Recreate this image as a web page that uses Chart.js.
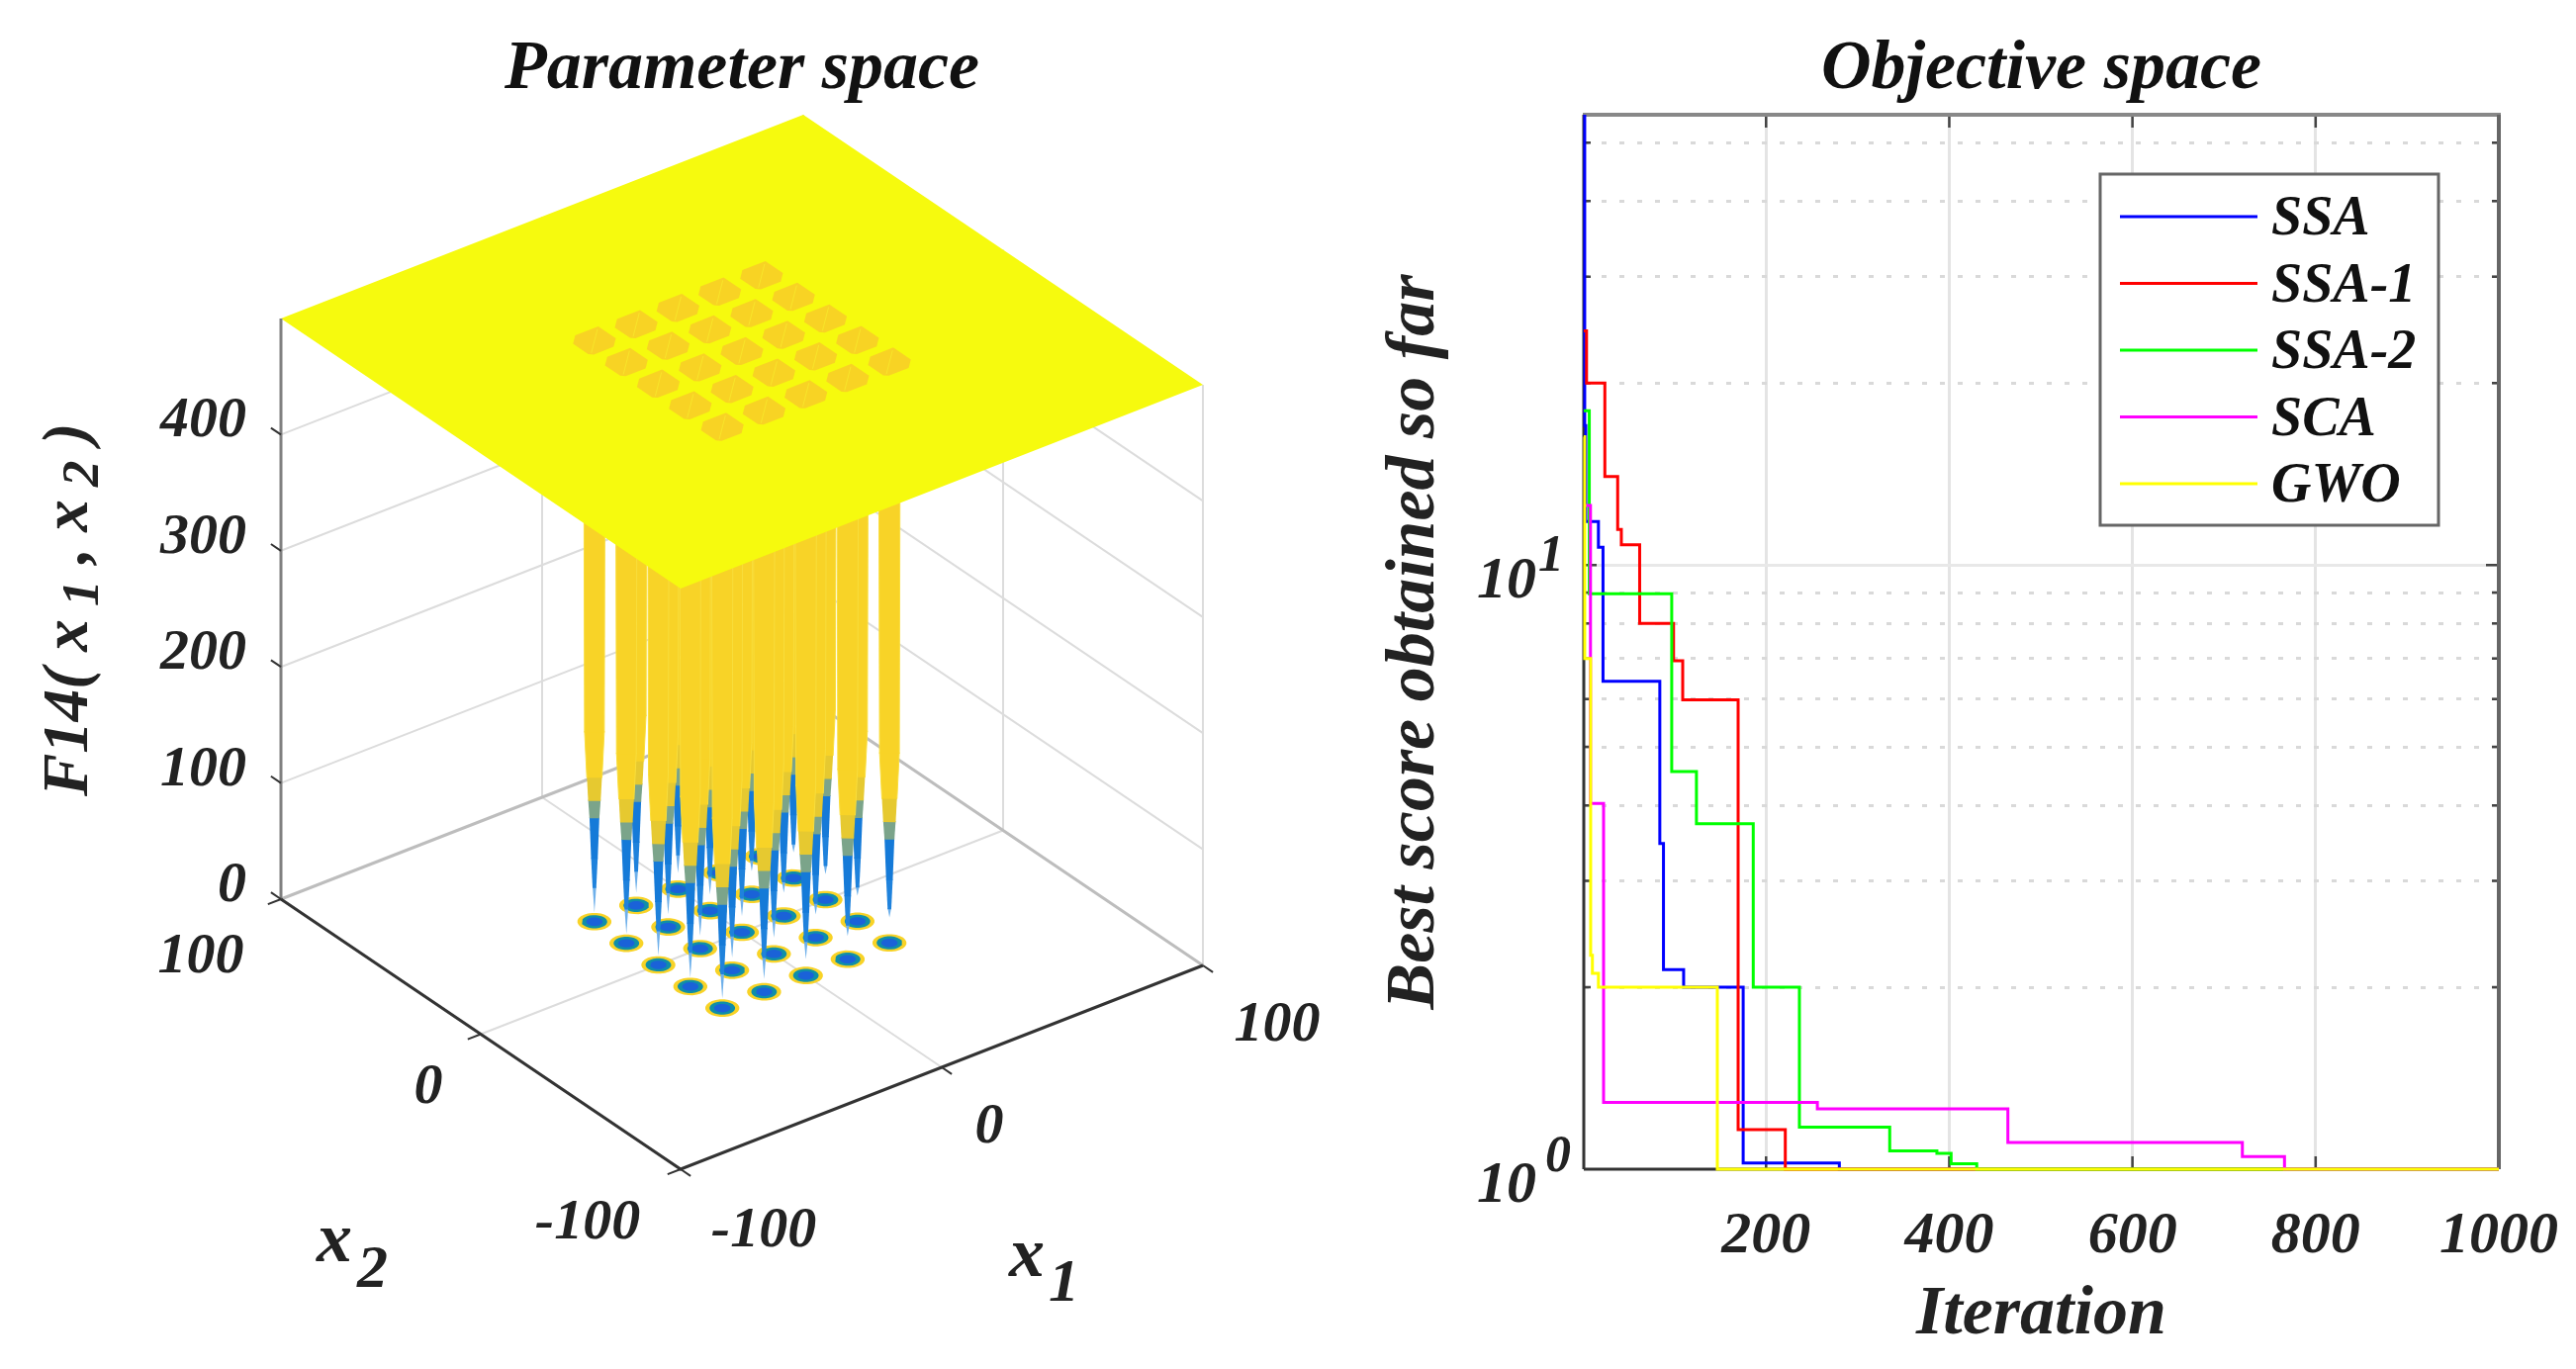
<!DOCTYPE html>
<html>
<head>
<meta charset="utf-8">
<title>Parameter space / Objective space</title>
<script src="https://cdn.jsdelivr.net/npm/chart.js@4"></script>
<style>
  html, body { margin: 0; padding: 0; background: #fff; }
  #wrap { position: relative; width: 2604px; height: 1384px; overflow: hidden; }
  canvas { position: absolute; top: 0; }
  #surface { left: 0; }
  #curves { left: 1380px; }
</style>
</head>
<body>
<div id="wrap">
  <canvas id="surface" width="1500" height="1384"></canvas>
  <canvas id="curves" width="1224" height="1384"></canvas>
</div>
<script>
// convergence curves
const seriesNames = ['SSA', 'SSA-1', 'SSA-2', 'SCA', 'GWO'];
const ssaX = [1, 2, 3.2, 17, 22, 84, 88, 110, 175, 280, 1000];
const ssaY = [80, 17, 11.8, 10.7, 6.42, 3.46, 2.14, 2.0, 1.024, 1, 1];
const ssa1X = [1, 4, 24, 38, 42, 62, 99, 109, 169.5, 221, 1000];
const ssa1Y = [24.4, 20, 14, 11.45, 10.8, 8.0, 6.94, 5.98, 1.163, 1, 1];
const ssa2X = [1, 7, 97, 124, 186, 236.4, 335, 386.5, 402, 430, 1000];
const ssa2Y = [18, 8.96, 4.55, 3.73, 2.0, 1.174, 1.072, 1.062, 1.021, 1, 1];
const scaX = [1, 8.3, 22.6, 256, 464, 720, 766, 1000];
const scaY = [12.55, 4.03, 1.29, 1.258, 1.107, 1.049, 1, 1];
const gwoX = [1, 2, 8.5, 10.4, 17, 146.8, 1000];
const gwoY = [16.3, 7.0, 2.26, 2.11, 2.0, 1, 1];
const iterTicks = [200, 400, 600, 800, 1000];
const scoreTicks = [1, 2, 3, 4, 5, 6, 7, 8, 9, 10, 20, 30, 40, 50];

// surface: foxhole centres and the profile of one hole
const holeX1 = [-32, -16, 0, 16, 32];
const holeX2 = [-32, -16, 0, 16, 32];
const tipByX1 = [8, 11, 14, 20, 22];
const plateauZ = 500;
const wallZ = [30, 55, 90, 105, 125, 164, 500];
const wallR = [0.55, 1.0, 1.5, 1.9, 2.3, 3.0, 3.3];
const zTicks = [0, 100, 200, 300, 400];
const baseTicks = [-100, 0, 100];

const FAMILY = '"Liberation Serif"';
const fontStr = size => `italic bold ${size}px ${FAMILY}`;
const INK = '#222';

// fixed view of the 3D box (orthographic)
function project(x1, x2, z) {
  return {
    x: 750 + 2.64 * x1 - 2.02 * x2,
    y: 942.5 - 1.03 * x1 - 1.365 * x2 - 1.174 * z
  };
}

function buildSurfaceDatasets() {
  const list = [];
  const line = (pts, color, width) => list.push({
    type: 'scatter', showLine: true, data: pts, borderColor: color, borderWidth: width,
    pointRadius: 0, fill: false
  });
  const poly = (pts, color, edge) => list.push({
    type: 'scatter', showLine: true, data: pts, borderColor: edge || 'transparent',
    borderWidth: edge ? 1 : 0, backgroundColor: color, pointRadius: 0, fill: 'shape'
  });

  // back walls and floor
  zTicks.slice(1).forEach(z => {
    line([project(-100, 100, z), project(100, 100, z), project(100, -100, z)], '#dcdcdc', 2);
  });
  line([project(0, 100, 0), project(0, 100, plateauZ)], '#dcdcdc', 2);
  line([project(100, 0, 0), project(100, 0, plateauZ)], '#dcdcdc', 2);
  line([project(100, 100, 0), project(100, 100, plateauZ)], '#dcdcdc', 2);
  line([project(100, -100, 0), project(100, -100, plateauZ)], '#dcdcdc', 2);
  line([project(0, 100, 0), project(0, -100, 0)], '#dcdcdc', 2);
  line([project(-100, 0, 0), project(100, 0, 0)], '#dcdcdc', 2);
  line([project(-100, 100, 0), project(100, 100, 0), project(100, -100, 0)], '#bdbdbd', 3);

  // holes, far ones first
  const holes = [];
  holeX1.forEach((a, i) => holeX2.forEach(b => holes.push({ a, b, tip: tipByX1[i] })));
  holes.sort((p, q) => (1.03 * q.a + 1.365 * q.b) - (1.03 * p.a + 1.365 * p.b));
  const disc = (a, b, r, color) => {
    const pts = [];
    for (let k = 0; k < 24; k++) {
      const t = k / 24 * Math.PI * 2;
      pts.push(project(a + r * Math.cos(t), b + r * Math.sin(t), 0));
    }
    poly(pts, color);
  };
  const bandColors = ['#1f82dc', '#157ad8', '#7ba48a', '#e6c930', '#f8d327', '#f8d327'];
  holes.forEach(h => {
    disc(h.a, h.b, 5.2, '#f8d327');
    disc(h.a, h.b, 3.9, '#0f8fa8');
    disc(h.a, h.b, 2.5, '#1a62d8');
    const side = (r, z, s) => project(h.a + s * r * 0.794, h.b - s * r * 0.608, z);
    poly([side(0, h.tip, -1), side(wallR[0], wallZ[0], -1), side(wallR[0], wallZ[0], 1)], '#6fb0ea');
    for (let i = 0; i < wallZ.length - 1; i++) {
      poly([side(wallR[i], wallZ[i] - 1, -1), side(wallR[i + 1], wallZ[i + 1], -1),
            side(wallR[i + 1], wallZ[i + 1], 1), side(wallR[i], wallZ[i] - 1, 1)],
           bandColors[i], i >= 4 ? '#f9de3c' : null);
    }
  });

  // flat top with the hole openings
  poly([project(-100, 100, plateauZ), project(100, 100, plateauZ),
        project(100, -100, plateauZ), project(-100, -100, plateauZ)], '#f6fa0e');
  holes.forEach(h => {
    const s = 6.2, c = 3.6, r = 1.2;
    poly([[-s + r, -s], [s - c, -s], [s, -s + c], [s, s], [-s + c, s], [-s, s - c], [-s, -s + r]]
      .map(q => project(h.a + q[0], h.b + q[1], plateauZ)), '#f8d324');
    line([project(h.a + 5, h.b + 5, plateauZ), project(h.a - 5, h.b - 5, plateauZ)], '#f9e52a', 1);
  });

  // z axis and front axes with their ticks
  line([project(-100, 100, 0), project(-100, 100, plateauZ)], '#808080', 3);
  line([project(-100, 100, 0), project(-100, -100, 0), project(100, -100, 0)], '#333', 3);
  zTicks.forEach(z => line([project(-100, 100, z), project(-100, 105, z)], '#333', 2));
  baseTicks.forEach(v => {
    line([project(v, -100, 0), project(v, -105, 0)], '#333', 2);
    line([project(-100, v, 0), project(-105, v, 0)], '#333', 2);
  });
  return list.reverse();   // first dataset is painted last
}

// label offsets from the tick they belong to
const x1LabelShift = [[84, 63], [48, 61], [75, 61]];
const x2LabelShift = [[-94, 55], [-53, 55], [-81, 59]];

const surfaceText = {
  id: 'surfaceText',
  afterDraw(chart) {
    const { ctx, scales } = chart;
    const at = p => ({ x: scales.x.getPixelForValue(p.x), y: scales.y.getPixelForValue(p.y) });
    ctx.save();
    ctx.fillStyle = INK;
    ctx.textBaseline = 'middle';
    ctx.font = fontStr(58);
    ctx.textAlign = 'right';
    zTicks.forEach(z => {
      const p = at(project(-100, 100, z));
      ctx.fillText(String(z), p.x - 35, p.y - 13);
    });
    ctx.textAlign = 'center';
    baseTicks.forEach((v, i) => {
      const p = at(project(v, -100, 0));
      ctx.fillText(String(v), p.x + x1LabelShift[i][0], p.y + x1LabelShift[i][1]);
      const q = at(project(-100, v, 0));
      ctx.fillText(String(v), q.x + x2LabelShift[i][0], q.y + x2LabelShift[i][1]);
    });

    // axis names with subscripts
    ctx.textAlign = 'left';
    ctx.font = fontStr(72);
    ctx.fillText('x', 320, 1256);
    ctx.fillText('x', 1020, 1271);
    ctx.font = fontStr(62);
    ctx.fillText('2', 361, 1285);
    ctx.fillText('1', 1060, 1299);

    ctx.translate(71, 805);
    ctx.rotate(-Math.PI / 2);
    let pos = 0;
    [['F14(', 0, 65], [' x', 0, 65], [' 1', 14, 53], [' ,', 0, 65], [' x', 0, 65], [' 2', 14, 53], [' )', 0, 65]]
      .forEach(part => {
        ctx.font = fontStr(part[2]);
        ctx.fillText(part[0], pos, part[1]);
        pos += ctx.measureText(part[0]).width;
      });
    ctx.restore();
  }
};

new Chart(document.getElementById('surface'), {
  data: { datasets: buildSurfaceDatasets() },
  plugins: [surfaceText],
  options: {
    responsive: false,
    animation: false,
    devicePixelRatio: 1,
    events: [],
    layout: { padding: 0 },
    scales: {
      x: { type: 'linear', display: false, min: 0, max: 1500 },
      y: { type: 'linear', display: false, min: 116, max: 1384, reverse: true }
    },
    plugins: {
      legend: { display: false },
      tooltip: { enabled: false },
      title: {
        display: true,
        text: 'Parameter space',
        color: '#111',
        font: { family: FAMILY, style: 'italic', weight: 'bold', size: 70, lineHeight: 1.2 },
        padding: { top: 29, bottom: 3 }
      }
    }
  }
});

const curveColors = ['#0000ff', '#ff0000', '#00ff00', '#ff00ff', '#ffff00'];
const toPoints = (xs, ys) => xs.map((x, i) => ({ x, y: ys[i] }));
const curveData = [toPoints(ssaX, ssaY), toPoints(ssa1X, ssa1Y), toPoints(ssa2X, ssa2Y),
                   toPoints(scaX, scaY), toPoints(gwoX, gwoY)];

const curveFrame = {
  id: 'curveFrame',
  beforeDatasetsDraw(chart) {
    const { ctx, chartArea: a, scales } = chart;
    ctx.save();
    // inward ticks on all four sides
    ctx.strokeStyle = '#444';
    ctx.lineWidth = 2.5;
    ctx.beginPath();
    iterTicks.slice(0, -1).forEach(v => {
      const x = scales.x.getPixelForValue(v);
      ctx.moveTo(x, a.bottom); ctx.lineTo(x, a.bottom - 13);
      ctx.moveTo(x, a.top); ctx.lineTo(x, a.top + 13);
    });
    scoreTicks.slice(1).forEach(v => {
      const y = scales.y.getPixelForValue(v);
      const len = v === 10 ? 13 : 7;
      ctx.moveTo(a.left, y); ctx.lineTo(a.left + len, y);
      ctx.moveTo(a.right, y); ctx.lineTo(a.right - len, y);
    });
    ctx.stroke();
    const edge = (color, w, x0, y0, x1, y1) => {
      ctx.strokeStyle = color; ctx.lineWidth = w;
      ctx.beginPath(); ctx.moveTo(x0, y0); ctx.lineTo(x1, y1); ctx.stroke();
    };
    edge('#888', 4, a.left - 1, a.top, a.right + 2, a.top);
    edge('#666', 4, a.right, a.top, a.right, a.bottom);
    edge('#333', 3, a.left, a.top, a.left, a.bottom);
    edge('#333', 3, a.left, a.bottom, a.right, a.bottom);
    ctx.restore();
  },
  afterDraw(chart) {
    const { ctx, chartArea: a, scales, data } = chart;
    ctx.save();
    // exponents of the decade labels
    ctx.fillStyle = INK;
    ctx.font = fontStr(52);
    ctx.textAlign = 'left';
    ctx.textBaseline = 'middle';
    ctx.fillText('0', 182, scales.y.getPixelForValue(1) - 11);
    ctx.fillText('1', 175, scales.y.getPixelForValue(10) - 8);

    // legend box inside the axes
    const left = a.left + 522, top = 176, w = 342, h = 355;
    ctx.fillStyle = '#fff';
    ctx.fillRect(left, top, w, h);
    ctx.strokeStyle = '#666';
    ctx.lineWidth = 3;
    ctx.strokeRect(left, top, w, h);
    ctx.font = fontStr(56);
    data.datasets.forEach((ds, i) => {
      const y = top + 43 + i * 67.5;
      ctx.strokeStyle = ds.borderColor;
      ctx.lineWidth = 3;
      ctx.beginPath(); ctx.moveTo(left + 20, y); ctx.lineTo(left + 159, y); ctx.stroke();
      ctx.fillStyle = '#111';
      ctx.fillText(ds.label, left + 173, y + 4);
    });
    ctx.restore();
  }
};

new Chart(document.getElementById('curves'), {
  data: {
    datasets: seriesNames.map((name, i) => ({
      type: 'scatter',
      label: name,
      data: curveData[i],
      showLine: true,
      stepped: 'before',
      borderColor: curveColors[i],
      borderWidth: 3,
      pointRadius: 0,
      order: seriesNames.length - i,
      clip: { left: 4, top: 0, right: 4, bottom: 4 }
    }))
  },
  plugins: [curveFrame],
  options: {
    responsive: false,
    animation: false,
    devicePixelRatio: 1,
    events: [],
    layout: { padding: { right: 78 } },
    scales: {
      x: {
        type: 'linear',
        min: 1,
        max: 1000,
        afterBuildTicks: s => { s.ticks = iterTicks.map(value => ({ value })); },
        afterFit: s => { s.height = 202; s.paddingLeft = 0; s.paddingRight = 0; },
        ticks: {
          autoSkip: false, maxRotation: 0, minRotation: 0, padding: 32, color: INK,
          font: { family: FAMILY, style: 'italic', weight: 'bold', size: 60, lineHeight: 1.2 },
          callback: v => String(v)
        },
        grid: {
          drawTicks: false,
          lineWidth: 3,
          color: c => (c.tick && c.tick.value === 1000 ? 'transparent' : '#e4e4e4')
        },
        border: { display: false },
        title: {
          display: true, text: 'Iteration', color: INK,
          font: { family: FAMILY, style: 'italic', weight: 'bold', size: 70, lineHeight: 1.2 },
          padding: { top: 0, bottom: 12 }
        }
      },
      y: {
        type: 'logarithmic',
        min: 1,
        max: 55.6,
        afterBuildTicks: s => { s.ticks = scoreTicks.map(value => ({ value })); },
        afterFit: s => { s.width = 221; s.paddingTop = 0; s.paddingBottom = 0; },
        ticks: {
          autoSkip: false, maxRotation: 0, minRotation: 0, padding: 48, labelOffset: 17, color: INK,
          font: { family: FAMILY, style: 'italic', weight: 'bold', size: 60, lineHeight: 1.2 },
          callback: v => (v === 1 || v === 10 ? '10' : '')
        },
        grid: {
          drawTicks: false,
          lineWidth: 3,
          color: c => {
            const v = c.tick && c.tick.value;
            if (v === 1) return 'transparent';
            return v === 10 ? '#e8e8e8' : '#d9d9d9';
          }
        },
        border: {
          display: false,
          dash: c => (c.tick && c.tick.value === 10 ? [] : [5, 13])
        },
        title: {
          display: true, text: 'Best score obtained so far', color: INK,
          font: { family: FAMILY, style: 'italic', weight: 'bold', size: 70, lineHeight: 1.2 },
          padding: { top: 9, bottom: 0 }
        }
      }
    },
    plugins: {
      legend: { display: false },
      tooltip: { enabled: false },
      title: {
        display: true,
        fullSize: false,
        text: 'Objective space',
        color: '#111',
        font: { family: FAMILY, style: 'italic', weight: 'bold', size: 70, lineHeight: 1.2 },
        padding: { top: 29, bottom: 3 }
      }
    }
  }
});
</script>
</body>
</html>
